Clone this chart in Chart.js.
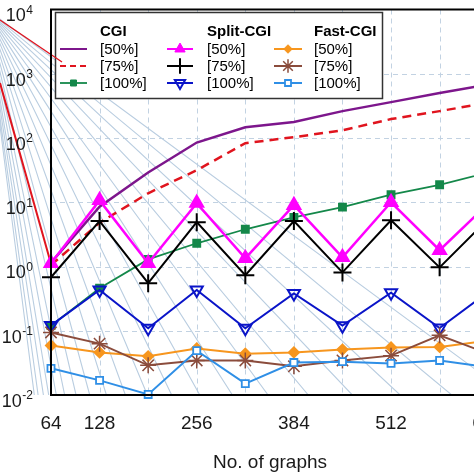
<!DOCTYPE html>
<html><head><meta charset="utf-8">
<script src="https://cdn.jsdelivr.net/npm/chart.js@4.4.1/dist/chart.umd.min.js"></script>
<style>html,body{margin:0;padding:0;background:#fff;}canvas{display:block;}</style>
</head><body>
<canvas id="c" width="474" height="474"></canvas>
<script>
// ---- data ----
const xValues   = [64, 128, 192, 256, 320, 384, 448, 512, 576, 640];
const cgi50     = [1.15, 8.5, 29, 85, 147, 177, 262, 362, 500, 680];
const cgi75     = [1.05, 4.8, 13.8, 31.5, 83, 103, 132, 197, 262, 354];
const cgi100    = [0.12, 0.46, 1.29, 2.3, 3.8, 5.8, 8.4, 13.1, 18.7, 29];
const split50   = [1.12, 10.7, 1.12, 9.7, 1.34, 9.0, 1.39, 10.0, 1.79, 9.5];
const split75   = [0.68, 5.1, 0.55, 4.9, 0.73, 5.1, 0.81, 5.25, 0.97, 5.5];
const split100  = [0.121, 0.43, 0.109, 0.43, 0.109, 0.38, 0.12, 0.39, 0.11, 0.4];
const fast50    = [0.059, 0.046, 0.040, 0.053, 0.044, 0.046, 0.051, 0.055, 0.056, 0.07];
const fast75    = [0.094, 0.063, 0.029, 0.0345, 0.0345, 0.028, 0.0345, 0.041, 0.085, 0.044];
const fast100   = [0.026, 0.0169, 0.0102, 0.049, 0.015, 0.032, 0.033, 0.031, 0.0345, 0.027];

// background (overlapping) lines: common start, ends on the bottom of the plot
const bgStartX = -23, bgStartY = 10500;
const bgEndX = [42, 47, 54, 61, 71, 82, 97, 115, 137, 162, 191, 223, 260, 303, 350, 403, 461, 524, 592, 669];
const bgEndY = 0.01;
// two red background strokes at top left
const redThinX = [-3.2, 78.5], redThinY = [6870, 1524];
const redThickX = [-3.2, 64],  redThickY = [718, 1.1];

// axes / ticks
const xMin = -3.2, xMax = 621.3, yMin = 0.01, yMax = 14060;
const yTickExponents = [4, 3, 2, 1, 0, -1, -2];
const xTickLabels = [64, 128, 256, 384, 512, 640];
const xGridValues = [128, 192, 256, 320, 384, 448, 512, 576, 640];
const yGridValues = [1000, 100, 10, 1, 0.1];
const xTitle = 'No. of graphs';
const groupTitles = ['CGI', 'Split-CGI', 'Fast-CGI'];
const rowLabels = ['[50%]', '[75%]', '[100%]'];

const FONT = '"Liberation Sans", Arial, Helvetica, sans-serif';
const C = {
  purple: '#7d168c', red: '#e0141e', green: '#14884a', magenta: '#ff00ff',
  black: '#000000', blue: '#0a14c8', orange: '#f7961e', brown: '#8b4c3c',
  lblue: '#2f8fe6', bg: '#b9cde0', grid: '#c2d2e2'
};

function series(label, values, color, order, extra) {
  return Object.assign({
    label, order,
    data: xValues.map((x, i) => ({x, y: values[i]})),
    borderColor: color, backgroundColor: color,
    pointBorderColor: color, pointBackgroundColor: color,
    borderWidth: 2, pointRadius: 0, tension: 0, clip: false
  }, extra);
}

const bgData = [];
bgEndX.forEach(ex => {
  bgData.push({x: bgStartX, y: bgStartY}, {x: ex, y: bgEndY}, {x: ex, y: null});
});

const datasets = [
  {label: 'bg', order: 30, data: bgData, borderColor: C.bg, borderWidth: 1.1, pointRadius: 0, spanGaps: false, tension: 0},
  {label: 'redThin', order: 20, data: redThinX.map((x, i) => ({x, y: redThinY[i]})), borderColor: C.red, borderWidth: 1.3, pointRadius: 0},
  {label: 'redThick', order: 20, data: redThickX.map((x, i) => ({x, y: redThickY[i]})), borderColor: C.red, borderWidth: 2, pointRadius: 0},
  series('CGI [50%]', cgi50, C.purple, 9, {borderWidth: 2.5}),
  series('CGI [75%]', cgi75, C.red, 8, {borderWidth: 2.5, borderDash: [9, 6]}),
  series('CGI [100%]', cgi100, C.green, 7, {borderWidth: 1.8, pointStyle: 'rect', pointRadius: 5}),
  series('Split-CGI [50%]', split50, C.magenta, 6, {borderWidth: 2.5, pointStyle: 'triangle', pointRadius: 7}),
  series('Split-CGI [75%]', split75, C.black, 5, {borderWidth: 2, pointStyle: 'cross', pointRadius: 9, pointBorderWidth: 2}),
  series('Split-CGI [100%]', split100, C.blue, 4, {borderWidth: 2, pointStyle: 'triangle', pointRotation: 180, pointRadius: 7, pointBorderWidth: 2, pointBackgroundColor: 'rgba(255,255,255,0)'}),
  series('Fast-CGI [50%]', fast50, C.orange, 3, {borderWidth: 2, pointStyle: 'rectRot', pointRadius: 5}),
  series('Fast-CGI [75%]', fast75, C.brown, 2, {borderWidth: 2, pointStyle: 'star', pointRadius: 8, pointBorderWidth: 1.5}),
  series('Fast-CGI [100%]', fast100, C.lblue, 1, {borderWidth: 2, pointStyle: 'rect', pointRadius: 5, pointBorderWidth: 1.8, pointBackgroundColor: '#ffffff'})
];
const groups = [[3, 4, 5], [6, 7, 8], [9, 10, 11]];

function marker(ctx, ds, x, y, scale) {
  if (!ds.pointStyle || !Chart.helpers || !Chart.helpers.drawPoint) return;
  ctx.save();
  ctx.setLineDash([]);
  ctx.fillStyle = ds.pointBackgroundColor;
  ctx.strokeStyle = ds.pointBorderColor;
  const bw = ds.pointBorderWidth || 1;
  ctx.lineWidth = bw;
  Chart.helpers.drawPoint(ctx, {pointStyle: ds.pointStyle, radius: ds.pointRadius * scale, rotation: ds.pointRotation || 0, borderWidth: bw}, x, y);
  ctx.restore();
}

const deco = {
  id: 'deco',
  beforeDatasetsDraw(chart) {
    const {ctx, chartArea: a, scales: {x, y}} = chart;
    ctx.save();
    ctx.strokeStyle = C.grid; ctx.lineWidth = 1; ctx.setLineDash([5, 4]);
    const left = x.getPixelForValue(64), top = y.getPixelForValue(10000);
    xGridValues.forEach(v => {
      const px = Math.round(x.getPixelForValue(v)) + 0.5;
      ctx.beginPath(); ctx.moveTo(px, top); ctx.lineTo(px, a.bottom); ctx.stroke();
    });
    yGridValues.forEach(v => {
      const py = Math.round(y.getPixelForValue(v)) + 0.5;
      ctx.beginPath(); ctx.moveTo(left, py); ctx.lineTo(a.right, py); ctx.stroke();
    });
    ctx.restore();
  },
  afterDatasetDraw(chart, args) {
    if (args.index !== 0) return;
    const ctx = chart.ctx;
    ctx.save();
    ctx.fillStyle = '#fff'; ctx.strokeStyle = '#333'; ctx.lineWidth = 1.5;
    ctx.fillRect(55.5, 12.5, 327, 86);
    ctx.strokeRect(55.5, 12.5, 327, 86);
    const gx = [[60, 87, 100], [167, 193, 207], [274, 302, 314]];
    const rows = [49, 66, 83];
    ctx.textBaseline = 'middle'; ctx.textAlign = 'left';
    groups.forEach((g, gi) => {
      const [x0, x1, tx] = gx[gi];
      ctx.fillStyle = '#000';
      ctx.font = 'bold 15px ' + FONT;
      ctx.fillText(groupTitles[gi], tx, 32);
      g.forEach((di, ri) => {
        const ds = chart.data.datasets[di];
        const yy = rows[ri];
        ctx.save();
        ctx.strokeStyle = ds.borderColor; ctx.lineWidth = Math.min(ds.borderWidth, 2);
        ctx.setLineDash(ds.borderDash ? [6, 4] : []);
        ctx.beginPath(); ctx.moveTo(x0, yy); ctx.lineTo(x1, yy); ctx.stroke();
        ctx.restore();
        marker(ctx, ds, (x0 + x1) / 2, yy, 0.85);
        ctx.fillStyle = '#000';
        ctx.font = '15px ' + FONT;
        ctx.fillText(rowLabels[ri], tx, yy + 1);
      });
    });
    ctx.restore();
  },
  afterDraw(chart) {
    const {ctx, chartArea: a, scales: {x, y}} = chart;
    ctx.save();
    const left = x.getPixelForValue(64), top = y.getPixelForValue(10000);
    ctx.strokeStyle = '#000'; ctx.lineWidth = 2; ctx.setLineDash([]);
    ctx.beginPath();
    ctx.moveTo(a.right + 2, top); ctx.lineTo(left, top); ctx.lineTo(left, a.bottom); ctx.lineTo(a.right + 2, a.bottom);
    ctx.stroke();
    ctx.fillStyle = '#1a1a1a';
    // y tick labels 10^e
    const R = 33;
    yTickExponents.forEach(e => {
      const ty = y.getPixelForValue(Math.pow(10, e));
      const es = String(e);
      ctx.font = '12px ' + FONT;
      const ew = ctx.measureText(es).width;
      ctx.textBaseline = 'middle';
      ctx.textAlign = 'left';
      ctx.fillText(es, R - ew, ty + 1);
      ctx.font = '18px ' + FONT;
      ctx.textAlign = 'right';
      ctx.fillText('10', R - ew - 0.5, ty + 7);
    });
    // x tick labels
    ctx.font = '19px ' + FONT;
    ctx.textAlign = 'center'; ctx.textBaseline = 'middle';
    xTickLabels.forEach(v => ctx.fillText(String(v), x.getPixelForValue(v), 424));
    ctx.fillText(xTitle, 270, 463);
    ctx.restore();
  }
};

new Chart(document.getElementById('c'), {
  type: 'line',
  data: {datasets},
  options: {
    responsive: false, animation: false, devicePixelRatio: 1,
    layout: {autoPadding: false, padding: {left: 0, right: 0, top: 0, bottom: 79}},
    plugins: {legend: {display: false}, tooltip: {enabled: false}},
    elements: {line: {tension: 0}},
    scales: {
      x: {type: 'linear', min: xMin, max: xMax, display: false, bounds: 'data'},
      y: {type: 'logarithmic', min: yMin, max: yMax, display: false, bounds: 'data'}
    }
  },
  plugins: [deco]
});
</script>
</body></html>
